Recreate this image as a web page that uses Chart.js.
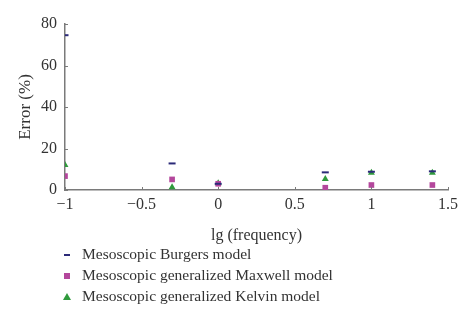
<!DOCTYPE html>
<html>
<head>
<meta charset="utf-8">
<script src="https://cdn.jsdelivr.net/npm/chart.js@4.4.1/dist/chart.umd.min.js"></script>
<style>
  html, body { margin: 0; padding: 0; background: #fff; }
  #wrap { width: 474px; height: 322px; }
</style>
</head>
<body>
<div id="wrap"><canvas id="errChart" width="474" height="322"></canvas></div>
<script>
// lg of the test frequencies (0.1, 0.5, 1, 5, 10, 25 Hz)
const lgFreq = [-1, -0.301, 0, 0.699, 1, 1.398];

const burgersErr = [74.6, 12.8, 3.0, 8.5, 8.8, 9.0];
const maxwellErr = [6.7, 5.1, 3.0, 1.1, 2.4, 2.4];
const kelvinErr = [12.0, 1.3, 3.2, 5.3, 8.3, 8.3];

const seriesNames = [
  "Mesoscopic Burgers model",
  "Mesoscopic generalized Maxwell model",
  "Mesoscopic generalized Kelvin model"
];

const xTicks = [-1, -0.5, 0, 0.5, 1, 1.5];
const yTicks = [0, 20, 40, 60, 80];

const FONT = "'Liberation Serif', 'DejaVu Serif', serif";
const TEXT = "#333";
const AXIS = "#7a7a7a";

function toPoints(ys) {
  return lgFreq.map((x, i) => ({ x: x, y: ys[i] }));
}

function minusSign(v) {
  return String(v).replace("-", "\u2212");
}

// inward tick marks + legend stacked under the plot
const extras = {
  id: "extras",
  afterDraw(chart) {
    const ctx = chart.ctx;
    const xs = chart.scales.x;
    const ys = chart.scales.y;
    const area = chart.chartArea;

    ctx.save();
    ctx.strokeStyle = AXIS;
    ctx.lineWidth = 1;
    xTicks.forEach(t => {
      const px = Math.round(xs.getPixelForValue(t)) + 0.5;
      ctx.beginPath();
      ctx.moveTo(px, area.bottom);
      ctx.lineTo(px, area.bottom - 3);
      ctx.stroke();
    });
    yTicks.forEach(t => {
      const py = Math.round(ys.getPixelForValue(t)) + 0.5;
      ctx.beginPath();
      ctx.moveTo(area.left, py);
      ctx.lineTo(area.left + 3, py);
      ctx.stroke();
    });

    const rows = [255, 276, 297];
    const mx = 67;
    chart.data.datasets.forEach((ds, i) => {
      const y = rows[i];
      ctx.fillStyle = ds.backgroundColor;
      ctx.strokeStyle = ds.borderColor;
      if (ds.pointStyle === "line") {
        ctx.lineWidth = 2;
        ctx.beginPath();
        ctx.moveTo(mx - 3, y);
        ctx.lineTo(mx + 3, y);
        ctx.stroke();
      } else if (ds.pointStyle === "rect") {
        ctx.fillRect(mx - 3, y - 3, 6, 6);
      } else {
        ctx.beginPath();
        ctx.moveTo(mx, y - 4);
        ctx.lineTo(mx + 4, y + 3);
        ctx.lineTo(mx - 4, y + 3);
        ctx.closePath();
        ctx.fill();
      }
      ctx.fillStyle = TEXT;
      ctx.font = "15.5px " + FONT;
      ctx.textBaseline = "middle";
      ctx.textAlign = "left";
      ctx.fillText(ds.label, 82, y);
    });
    ctx.restore();
  }
};

new Chart(document.getElementById("errChart"), {
  type: "scatter",
  data: {
    datasets: [
      {
        label: seriesNames[0],
        data: toPoints(burgersErr),
        pointStyle: "line",
        pointRadius: 3.5,
        borderWidth: 2,
        borderColor: "#2b2a78",
        backgroundColor: "#2b2a78"
      },
      {
        label: seriesNames[1],
        data: toPoints(maxwellErr),
        pointStyle: "rect",
        pointRadius: 4,
        borderWidth: 0,
        borderColor: "#b4479c",
        backgroundColor: "#b4479c"
      },
      {
        label: seriesNames[2],
        data: toPoints(kelvinErr),
        pointStyle: "triangle",
        pointRadius: 4,
        borderWidth: 0,
        borderColor: "#2f9a3c",
        backgroundColor: "#2f9a3c"
      }
    ]
  },
  options: {
    responsive: false,
    animation: false,
    layout: { padding: { top: 24, right: 26, bottom: 77, left: 0 } },
    plugins: {
      legend: { display: false },
      tooltip: { enabled: false }
    },
    scales: {
      x: {
        type: "linear",
        min: -1,
        max: 1.5,
        afterBuildTicks: s => { s.ticks = xTicks.map(v => ({ value: v })); },
        afterFit: s => { s.height = 55; },
        border: { display: true, color: AXIS, width: 1.5 },
        grid: { display: false, drawTicks: false },
        ticks: {
          color: TEXT,
          font: { family: FONT, size: 16 },
          padding: 5,
          callback: v => minusSign(v)
        },
        title: {
          display: true,
          text: "lg (frequency)",
          color: TEXT,
          font: { family: FONT, size: 16 },
          padding: { top: 0, bottom: 0 }
        }
      },
      y: {
        min: 0,
        max: 80,
        afterBuildTicks: s => { s.ticks = yTicks.map(v => ({ value: v })); },
        afterFit: s => { s.width = 65; },
        border: { display: true, color: AXIS, width: 1.5 },
        grid: { display: false, drawTicks: false },
        ticks: {
          color: TEXT,
          font: { family: FONT, size: 16 },
          padding: 8
        },
        title: {
          display: true,
          text: "Error (%)",
          color: TEXT,
          font: { family: FONT, size: 17 },
          padding: { top: 15, bottom: 0 }
        }
      }
    }
  },
  plugins: [extras]
});
</script>
</body>
</html>
